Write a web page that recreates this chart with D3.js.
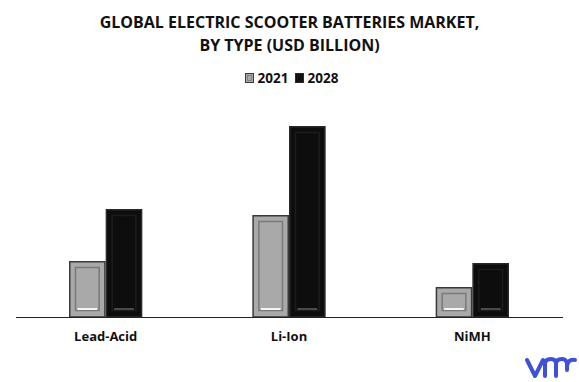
<!DOCTYPE html>
<html>
<head>
<meta charset="utf-8">
<script src="https://cdn.jsdelivr.net/npm/d3@7"></script>
<style>
  body { margin: 0; background: #fff; }
  text { font-family: "Open Sans", "DejaVu Sans", sans-serif; }
</style>
</head>
<body>
<div id="chart"></div>
<script>
(function() {

    // data (USD billion, estimated)
    const categories = ["Lead-Acid", "Li-Ion", "NiMH"];
    const seriesNames = ["2021", "2028"];
    const values2021 = [2.8, 5.1, 1.5];
    const values2028 = [5.4, 9.55, 2.7];
    const titleLines = ["GLOBAL ELECTRIC SCOOTER BATTERIES MARKET,", "BY TYPE (USD BILLION)"];

    const W = 579, H = 382;
    const baseY = 317;
    const plotTop = 126;

    const svg = d3.select("#chart").append("svg")
        .attr("width", W)
        .attr("height", H);

    // title
    svg.selectAll("text.title")
        .data(titleLines)
        .enter()
        .append("text")
        .attr("class", "title")
        .attr("x", W / 2)
        .attr("y", function(d, i) { return 28 + i * 23; })
        .attr("text-anchor", "middle")
        .attr("font-size", 16)
        .attr("font-weight", "bold")
        .attr("fill", "#111")
        .text(function(d) { return d; });

    // scales
    const x = d3.scaleBand()
        .domain(categories)
        .range([69, 509])
        .paddingInner(0.6)
        .paddingOuter(0);

    const xSub = d3.scaleBand()
        .domain(seriesNames)
        .range([0, x.bandwidth()]);

    const y = d3.scaleLinear()
        .domain([0, 9.55])
        .range([baseY, plotTop]);

    const styles = {
        "2021": { fill: "#a9a9a9", border: "#3a3a3a", inner: "#7a7a7a", hi: "#f4f4f4" },
        "2028": { fill: "#0d0d0d", border: "#2a2a2a", inner: "#1c1c1c", hi: "#4a4a4a" }
    };

    const rows = [];
    categories.forEach(function(c, i) {
        rows.push({ cat: c, s: "2021", v: values2021[i] });
        rows.push({ cat: c, s: "2028", v: values2028[i] });
    });

    const bars = svg.selectAll("g.bar")
        .data(rows)
        .enter()
        .append("g")
        .attr("class", "bar")
        .attr("transform", function(d) {
            return "translate(" + (x(d.cat) + xSub(d.s)) + "," + y(d.v) + ")";
        });

    bars.each(function(d) {
        const g = d3.select(this);
        const bw = xSub.bandwidth();
        const bh = baseY - y(d.v);
        const st = styles[d.s];
        g.append("rect")
            .attr("x", 0.75).attr("y", 0.75)
            .attr("width", bw - 1.5).attr("height", bh - 0.75)
            .attr("fill", st.fill)
            .attr("stroke", st.border)
            .attr("stroke-width", 1.5);
        const inset = 6.5;
        g.append("rect")
            .attr("x", inset).attr("y", inset)
            .attr("width", bw - inset * 2).attr("height", Math.max(bh - inset * 2, 4))
            .attr("fill", "none")
            .attr("stroke", st.inner)
            .attr("stroke-width", 1.5);
        g.append("line")
            .attr("x1", inset + 2).attr("x2", bw - inset - 2)
            .attr("y1", bh - inset - 1.5).attr("y2", bh - inset - 1.5)
            .attr("stroke", st.hi)
            .attr("stroke-width", 2);
    });

    // baseline
    svg.append("line")
        .attr("x1", 16).attr("x2", 563)
        .attr("y1", baseY + 0.5).attr("y2", baseY + 0.5)
        .attr("stroke", "#222")
        .attr("stroke-width", 1.2);

    // category labels via axis
    const xAxis = svg.append("g")
        .attr("transform", "translate(0," + baseY + ")")
        .call(d3.axisBottom(x).tickSize(0).tickPadding(15));
    xAxis.select(".domain").remove();
    xAxis.selectAll("text")
        .attr("font-size", 13)
        .attr("font-weight", "bold")
        .attr("fill", "#111")
        .style("font-family", "\"Open Sans\", sans-serif");

    // legend
    const legend = svg.append("g").attr("transform", "translate(245,73)");
    const leg = legend.selectAll("g")
        .data(seriesNames)
        .enter()
        .append("g")
        .attr("transform", function(d, i) { return "translate(" + (i * 50) + ",0)"; });
    leg.append("rect")
        .attr("x", 0.5).attr("y", 0.5)
        .attr("width", 8).attr("height", 9)
        .attr("fill", function(d) { return styles[d].fill; })
        .attr("stroke", function(d) { return styles[d].border; });
    leg.append("rect")
        .attr("x", 2.5).attr("y", 2.5)
        .attr("width", 4).attr("height", 5)
        .attr("fill", "none")
        .attr("stroke", function(d) { return styles[d].inner; })
        .attr("stroke-width", 0.8);
    leg.append("text")
        .attr("x", 12.5)
        .attr("y", 10)
        .attr("font-size", 13.5)
        .attr("font-weight", "bold")
        .attr("fill", "#111")
        .text(function(d) { return d; });

    // logo
    svg.append("path")
        .attr("d", "M527,360 L535,376 L543,360 M545,376 L545,364 Q545,359 551,359 Q556,359 556,364 L556,376 M556,364 Q556,359 562,359 Q566,359 567,363 L567,370 M567,366 Q568,359 575,360")
        .attr("fill", "none")
        .attr("stroke", "#3f51d6")
        .attr("stroke-width", 4)
        .attr("stroke-linecap", "round")
        .attr("stroke-linejoin", "round");

})();
</script>
</body>
</html>
